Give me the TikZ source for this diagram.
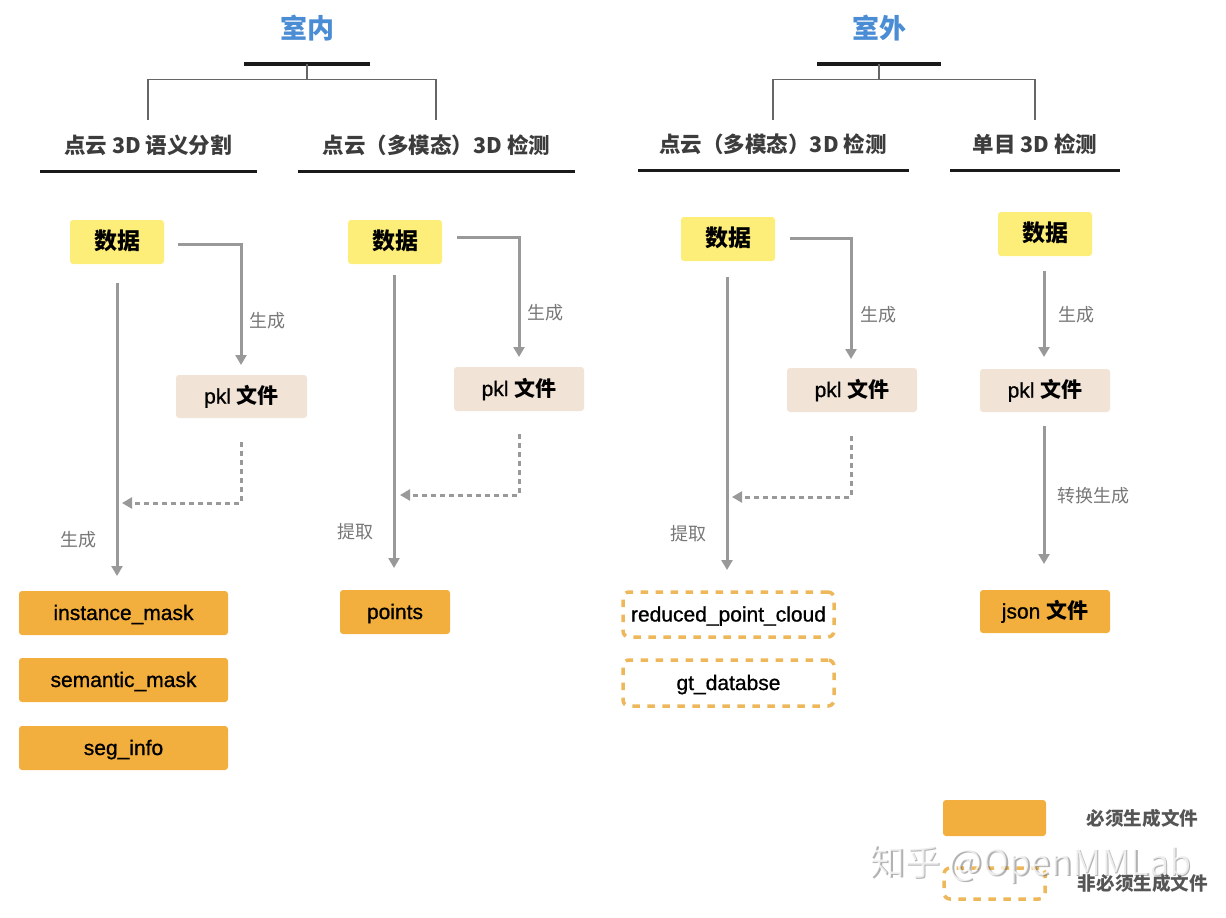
\documentclass[tikz,border=0pt]{standalone}
\usepackage{fontspec}
\setmainfont{Liberation Sans}
\newfontfamily\cjk{Noto Sans CJK SC}
\newfontfamily\med[FakeBold=0.9]{Liberation Sans}
\usetikzlibrary{arrows.meta,calc}
\definecolor{blueT}{HTML}{4A8DD4}
\definecolor{yel}{HTML}{FDEE7A}
\definecolor{bei}{HTML}{F2E3D7}
\definecolor{ora}{HTML}{F3AF3D}
\definecolor{dashor}{HTML}{EDB75A}
\definecolor{arr}{HTML}{999999}
\definecolor{lin}{HTML}{666666}
\definecolor{legc}{HTML}{555555}
\definecolor{lab}{HTML}{777777}
\definecolor{bar}{HTML}{1A1A1A}
\newcommand{\bx}[7]{\node[#2,minimum width=#5-#3,minimum height=#6-#4] (#1) at ({(#3+#5)/2},{(#4+#6)/2}) {#7};}
\newcommand{\pk}[1]{{\med #1}}
\newcommand{\wj}{{\cjk\bfseries 文件}}
\tikzset{
 x=1pt,y=-1pt,
 base/.style={inner sep=0pt,outer sep=0pt,rounded corners=3pt},
 yellowbox/.style={base,fill=yel,font=\cjk\fontsize{23}{24}\selectfont\bfseries,text=black,text height=14pt,text depth=0pt},
 pklbox/.style={base,fill=bei,font=\fontsize{21}{21}\selectfont,text=black,text height=14pt,text depth=0pt},
 reqbox/.style={base,fill=ora,font=\med\fontsize{21}{21}\selectfont,text=black,text height=14pt,text depth=0pt},
 optbox/.style={base,draw=dashor,line width=3.5pt,dash pattern=on 7.5pt off 7.5pt,rounded corners=6pt,font=\med\fontsize{21}{21}\selectfont,text=black,text height=14pt,text depth=0pt},
 titletext/.style={inner sep=0pt,font=\cjk\fontsize{27}{27}\selectfont\bfseries,text=blueT},
 headtext/.style={inner sep=0pt,font=\cjk\fontsize{21.5}{22}\selectfont\bfseries,text=bar!85!white},
 edgetext/.style={inner sep=0pt,font=\cjk\fontsize{18}{18}\selectfont,text=lab},
 legtext/.style={inner sep=0pt,font=\cjk\fontsize{18.6}{19}\selectfont\bfseries,text=legc},
 heavybar/.style={draw=bar,line width=3.2pt},
 thinline/.style={draw=lin,line width=1.4pt},
 flow/.style={draw=arr,line width=3pt,-{Triangle[length=10pt,width=11pt]}},
 dflow/.style={draw=arr,line width=3pt,dash pattern=on 5pt off 4pt,-{Triangle[length=10pt,width=11pt]}},
}
\begin{document}
\begin{tikzpicture}
\useasboundingbox (0,0) rectangle (1226,918);
% titles
\node[titletext] (tIn) at (307,28) {室内};
\node[titletext] (tOut) at (879,28) {室外};
\coordinate (barInL) at (244,64); \coordinate (barInR) at (370,64); \coordinate (barInM) at (307,64);
\coordinate (barOutL) at (817,64); \coordinate (barOutR) at (941,64); \coordinate (barOutM) at (879,64);
\draw[heavybar] (barInL) -- (barInR);
\draw[heavybar] (barOutL) -- (barOutR);
% heads
\node[headtext] (h1) at (148,145) {点云 3D 语义分割};
\node[headtext] (h2) at (436.5,145) {点云（多模态）3D 检测};
\node[headtext] (h3) at (773,144) {点云（多模态）3D 检测};
\node[headtext] (h4) at (1035,144) {单目 3D 检测};
\coordinate (dropA) at (148,120); \coordinate (dropB) at (436,120);
\coordinate (dropC) at (773,120); \coordinate (dropD) at (1035,120);
\coordinate (jIn) at (307,79.5); \coordinate (jOut) at (879,79.5);
\draw[thinline] (barInM) -- (jIn);
\draw[thinline] (dropA) |- (jIn) -| (dropB);
\draw[thinline] (barOutM) -- (jOut);
\draw[thinline] (dropC) |- (jOut) -| (dropD);
\coordinate (u1a) at (40,171.5); \coordinate (u1b) at (257,171.5);
\coordinate (u2a) at (298,171.5); \coordinate (u2b) at (575,171.5);
\coordinate (u3a) at (638,170.5); \coordinate (u3b) at (909,170.5);
\coordinate (u4a) at (950,170.5); \coordinate (u4b) at (1120,170.5);
\draw[heavybar] (u1a) -- (u1b);
\draw[heavybar] (u2a) -- (u2b);
\draw[heavybar] (u3a) -- (u3b);
\draw[heavybar] (u4a) -- (u4b);
% boxes
\bx{d1}{yellowbox}{70}{220}{164}{264}{数据}
\bx{d2}{yellowbox}{348}{220}{442}{264}{数据}
\bx{d3}{yellowbox}{681}{217}{775}{261}{数据}
\bx{d4}{yellowbox}{998}{212}{1092}{256}{数据}
\bx{p1}{pklbox}{176}{375}{307}{418}{\pk{pkl} \wj}
\bx{p2}{pklbox}{454}{367}{584}{411}{\pk{pkl} \wj}
\bx{p3}{pklbox}{787}{368}{917}{412}{\pk{pkl} \wj}
\bx{p4}{pklbox}{980}{369}{1110}{412}{\pk{pkl} \wj}
\bx{o1}{reqbox}{19}{591}{228}{635}{instance\_mask}
\bx{o2}{reqbox}{19}{658}{228}{702}{semantic\_mask}
\bx{o3}{reqbox}{19}{726}{228}{770}{seg\_info}
\bx{o4}{reqbox}{340}{590}{450}{634}{points}
\bx{o5}{reqbox}{980}{590}{1110}{633}{json \wj}
\bx{q1}{optbox}{623}{592}{834}{637}{reduced\_point\_cloud}
\bx{q2}{optbox}{623}{660}{834}{706}{gt\_databse}
\bx{l1}{base,fill=ora}{943}{800}{1046}{836}{}
\bx{l2}{optbox}{944}{868}{1045}{899}{}
% col 1
\coordinate (a1s) at (178,244); \coordinate (a1e) at (241,365);
\coordinate (b1s) at (117,283); \coordinate (b1e) at (117,576);
\coordinate (c1s) at (241,442); \coordinate (c1e) at (122,503);
\draw[flow] (a1s) -| (a1e);
\draw[flow] (b1s) -- (b1e);
\draw[dflow] (c1s) |- (c1e);
% col 2
\coordinate (a2s) at (457,237); \coordinate (a2e) at (519,357);
\coordinate (b2s) at (394,275); \coordinate (b2e) at (394,568);
\coordinate (c2s) at (519,434); \coordinate (c2e) at (400,495);
\draw[flow] (a2s) -| (a2e);
\draw[flow] (b2s) -- (b2e);
\draw[dflow] (c2s) |- (c2e);
% col 3
\coordinate (a3s) at (790,238); \coordinate (a3e) at (851,359);
\coordinate (b3s) at (727,277); \coordinate (b3e) at (727,570);
\coordinate (c3s) at (851,436); \coordinate (c3e) at (732,497);
\draw[flow] (a3s) -| (a3e);
\draw[flow] (b3s) -- (b3e);
\draw[dflow] (c3s) |- (c3e);
% col 4
\coordinate (a4s) at (1044,271); \coordinate (a4e) at (1044,357);
\coordinate (b4s) at (1044,426); \coordinate (b4e) at (1044,564);
\draw[flow] (a4s) -- (a4e);
\draw[flow] (b4s) -- (b4e);
% edge labels
\node[edgetext] (e1) at (267,320.5) {生成};
\node[edgetext] (e2) at (78,539.5) {生成};
\node[edgetext] (e3) at (545,312.5) {生成};
\node[edgetext] (e4) at (355,531.5) {提取};
\node[edgetext] (e5) at (878,314.5) {生成};
\node[edgetext] (e6) at (688,533.5) {提取};
\node[edgetext] (e7) at (1076,314.5) {生成};
\node[edgetext] (e8) at (1093,495.5) {转换生成};
% legend
\node[legtext] (lt1) at (1142.5,818) {必须生成文件};
\node[legtext] (lt2) at (1143,883) {非必须生成文件};
% watermark
\node[inner sep=0pt,text=black!60,opacity=.5,font=\cjk\fontsize{35.5}{36}\selectfont] (wm) at (1032,865.5) {知乎 @OpenMMLab};
\node[inner sep=0pt,text=white,opacity=.75,font=\cjk\fontsize{35.5}{36}\selectfont] (wm2) at (1030.5,864.5) {知乎 @OpenMMLab};
\end{tikzpicture}
\end{document}
